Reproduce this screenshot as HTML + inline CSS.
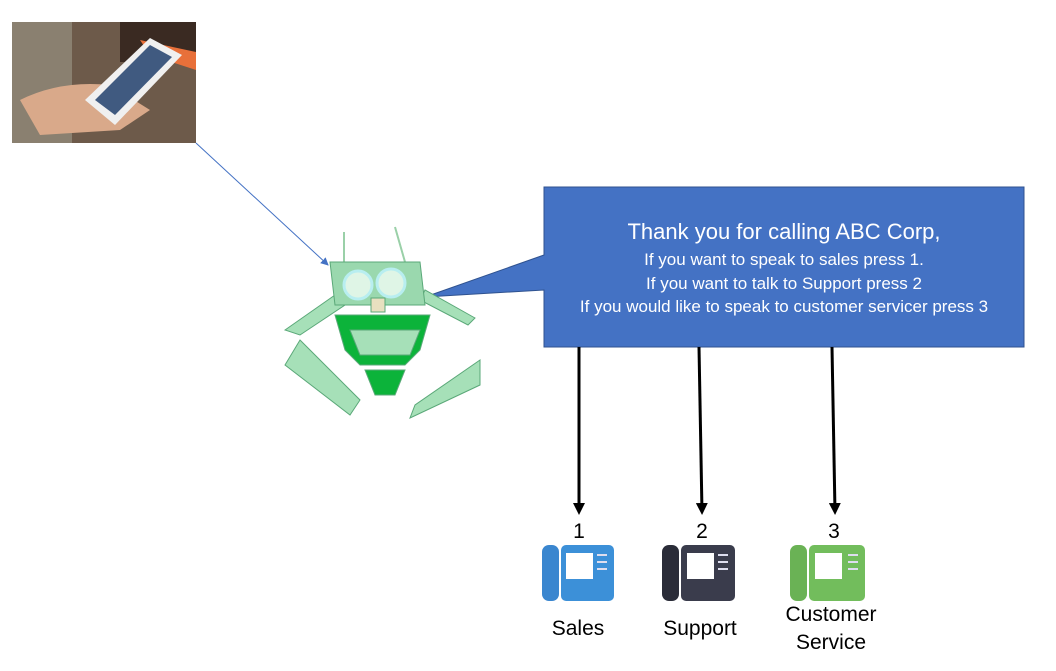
<!DOCTYPE html>
<html><head><meta charset="utf-8"><style>
body{margin:0;width:1056px;height:671px;background:#fff;overflow:hidden;font-family:"Liberation Sans",Calibri,sans-serif}
.t{position:absolute;font-family:"Liberation Sans",sans-serif;color:#000;text-align:center;white-space:nowrap}
</style></head><body>
<svg width="1056" height="671" style="position:absolute;left:0;top:0">
<defs>
<marker id="ab" markerWidth="8" markerHeight="8" refX="7" refY="4" orient="auto"><path d="M0,0L8,4L0,8z" fill="#4472c4"/></marker>
<marker id="ak" markerWidth="4" markerHeight="4" refX="3" refY="2" orient="auto"><path d="M0,0L4,2L0,4z" fill="#000"/></marker>
</defs>
<rect x="12" y="22" width="184" height="121" fill="#6d5a4a"/>
<rect x="12" y="22" width="60" height="121" fill="#8a8070"/>
<rect x="120" y="22" width="76" height="40" fill="#3a2a22"/>
<path d="M140,40L196,52L196,70L150,55z" fill="#e8703a"/>
<path d="M20,100Q60,80 110,85L150,110L120,130L40,135z" fill="#d9a98a"/>
<path d="M85,100L150,38L182,55L115,125z" fill="#f0f0f0"/>
<path d="M95,100L150,45L172,57L115,115z" fill="#405a80"/>
<line x1="196" y1="143" x2="328" y2="265" stroke="#4472c4" stroke-width="1" marker-end="url(#ab)"/>
<path d="M544,187H1024V347H544V290L425,297L544,255z" fill="#4472c4" stroke="#2f528f" stroke-width="1"/>
<g stroke="#5aa878" stroke-width="1">
<line x1="344" y1="232" x2="344" y2="262" stroke="#9ad0a8" stroke-width="2"/>
<line x1="395" y1="227" x2="405" y2="262" stroke="#9ad0a8" stroke-width="2"/>
<path d="M285,330L335,295L345,305L300,335z" fill="#a6e0b8"/>
<path d="M475,318L425,290L420,300L468,325z" fill="#a6e0b8"/>
<path d="M330,262H420L425,305H335z" fill="#9ad8ae"/>
<circle cx="358" cy="285" r="14" fill="#dff5e6" stroke="#b8eef0" stroke-width="3"/>
<circle cx="391" cy="283" r="14" fill="#dff5e6" stroke="#b8eef0" stroke-width="3"/>
<rect x="371" y="298" width="14" height="14" fill="#e8e0c0"/>
<path d="M335,315H430L420,350L405,365H360L345,350z" fill="#0cb33a"/>
<path d="M350,330H420L410,355H360z" fill="#a6e0b8"/>
<path d="M365,370H405L395,395H375z" fill="#0cb33a"/>
<path d="M300,340L360,400L350,415L285,365z" fill="#a6e0b8"/>
<path d="M480,360L415,405L410,418L480,385z" fill="#a6e0b8"/>
</g>
<g stroke="#000" stroke-width="3">
<line x1="579" y1="347" x2="579" y2="512" marker-end="url(#ak)"/>
<line x1="699" y1="347" x2="702" y2="512" marker-end="url(#ak)"/>
<line x1="832" y1="347" x2="835" y2="512" marker-end="url(#ak)"/>
</g>
<g>
<rect x="542" y="545" width="17" height="56" rx="7" fill="#3a86cf"/>
<rect x="561" y="545" width="53" height="56" rx="5" fill="#3c90d8"/>
<rect x="566" y="553" width="27" height="26" fill="#fff"/>
<rect x="662" y="545" width="17" height="56" rx="7" fill="#2a2c38"/>
<rect x="681" y="545" width="54" height="56" rx="5" fill="#3a3c4c"/>
<rect x="687" y="553" width="27" height="26" fill="#fff"/>
<rect x="790" y="545" width="17" height="56" rx="7" fill="#6ab255"/>
<rect x="809" y="545" width="56" height="56" rx="5" fill="#72bd5c"/>
<rect x="815" y="553" width="27" height="26" fill="#fff"/>
<g fill="#dde">
<rect x="597" y="554" width="10" height="2"/><rect x="597" y="561" width="10" height="2"/><rect x="597" y="568" width="10" height="2"/>
<rect x="718" y="554" width="10" height="2"/><rect x="718" y="561" width="10" height="2"/><rect x="718" y="568" width="10" height="2"/>
<rect x="848" y="554" width="10" height="2"/><rect x="848" y="561" width="10" height="2"/><rect x="848" y="568" width="10" height="2"/>
</g>
</g>
</svg>
<div class="t" style="left:544px;top:219px;width:480px;color:#fff;font-size:22px">Thank you for calling ABC Corp,</div>
<div class="t" style="left:544px;top:248px;width:480px;color:#fff;font-size:17px;line-height:23.5px">If you want to speak to sales press 1.<br>If you want to talk to Support press 2<br>If you would like to speak to customer servicer press 3</div>
<div class="t" style="left:559px;top:520px;width:40px;font-size:21px">1</div>
<div class="t" style="left:682px;top:520px;width:40px;font-size:21px">2</div>
<div class="t" style="left:814px;top:520px;width:40px;font-size:21px">3</div>
<div class="t" style="left:528px;top:617px;width:100px;font-size:21px">Sales</div>
<div class="t" style="left:650px;top:617px;width:100px;font-size:21px">Support</div>
<div class="t" style="left:770px;top:601px;width:122px;font-size:21px;line-height:28px">Customer<br>Service</div>
</body></html>
